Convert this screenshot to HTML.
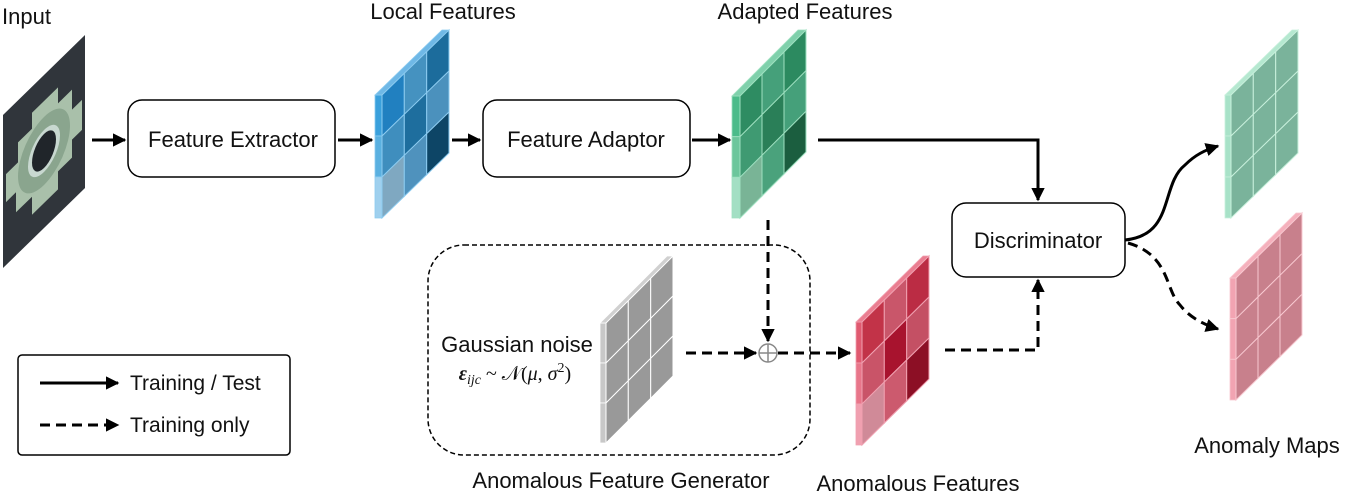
<!DOCTYPE html>
<html><head><meta charset="utf-8"><style>
html,body{margin:0;padding:0;background:#fff;}
svg{display:block;font-family:"Liberation Sans",Arial,sans-serif;}
</style></head><body>
<svg id="s" width="1346" height="493" viewBox="0 0 1346 493" xmlns="http://www.w3.org/2000/svg">
<defs>
<marker id="ah" viewBox="0 0 10 10" refX="9" refY="5" markerWidth="4.5" markerHeight="4.5" orient="auto" markerUnits="strokeWidth"><path d="M0,0 L10,5 L0,10 z" fill="#000"/></marker>
</defs>
<g font-size="22" fill="#111">
<text x="2" y="24">Input</text>
<text x="443" y="19" text-anchor="middle">Local Features</text>
<text x="805" y="19" text-anchor="middle">Adapted Features</text>
<text x="621" y="488" text-anchor="middle">Anomalous Feature Generator</text>
<text x="918" y="491" text-anchor="middle">Anomalous Features</text>
<text x="1267" y="453" text-anchor="middle">Anomaly Maps</text>
</g>
<!-- input image -->
<g transform="matrix(1,-0.976,0,1,3,115)">
<rect x="0" y="0" width="82" height="153" fill="#30353b"/>
<g transform="translate(41,76)">
<path d="M-26,-34 L-12,-34 L-12,-50 L14,-50 L14,-34 L28,-34 L28,-14 L38,-14 L38,16 L28,16 L28,34 L14,34 L14,52 L-12,52 L-12,34 L-28,34 L-28,14 L-38,14 L-38,-14 L-26,-14 Z" fill="#a9c0aa"/>
<ellipse cx="0" cy="0" rx="26" ry="34" fill="#8aa58e"/>
<ellipse cx="0" cy="0" rx="16" ry="21" fill="#c8d8d0"/>
<ellipse cx="0" cy="0" rx="12" ry="17" fill="#20252a"/>
</g>
</g>
<!-- boxes -->
<g fill="#fff" stroke="#000" stroke-width="1.5">
<rect x="128" y="100" width="207" height="77" rx="14"/>
<rect x="483" y="100" width="207" height="77" rx="14"/>
<rect x="952" y="203" width="173" height="74" rx="14"/>
<rect x="428" y="245" width="382" height="210" rx="36" stroke-dasharray="5,3"/>
<rect x="18" y="355" width="272" height="100" rx="4"/>
</g>
<g font-size="22" fill="#111" text-anchor="middle">
<text x="233" y="147">Feature Extractor</text>
<text x="586" y="147">Feature Adaptor</text>
<text x="1038" y="248">Discriminator</text>
<text x="517" y="352">Gaussian noise</text>
</g>
<text x="515" y="380" font-size="20" font-family="'Liberation Serif',serif" text-anchor="middle" fill="#111"><tspan font-weight="bold" font-style="italic">ε</tspan><tspan font-style="italic" font-size="14" dy="4">ijc</tspan><tspan dy="-4"> ~ 𝒩(</tspan><tspan font-style="italic">μ</tspan>, <tspan font-style="italic">σ</tspan><tspan font-size="14" dy="-8">2</tspan><tspan dy="8">)</tspan></text>
<g font-size="21" fill="#111">
<text x="130" y="390">Training / Test</text>
<text x="130" y="432">Training only</text>
</g>
<g id="plates"></g>
<!-- arrows -->
<g stroke="#000" stroke-width="3" fill="none">
<line x1="92" y1="140" x2="125" y2="140" marker-end="url(#ah)"/>
<line x1="338" y1="140" x2="372" y2="140" marker-end="url(#ah)"/>
<line x1="452" y1="140" x2="480" y2="140" marker-end="url(#ah)"/>
<line x1="692" y1="140" x2="730" y2="140" marker-end="url(#ah)"/>
<polyline points="818,140 1038,140 1038,200" marker-end="url(#ah)"/>
<line x1="40" y1="383" x2="118" y2="383" marker-end="url(#ah)"/>
<path d="M1125,240 C1175,235 1160,185 1185,165 C1195,155 1205,150 1218,146" marker-end="url(#ah)"/>
</g>
<g stroke="#000" stroke-width="3" fill="none" stroke-dasharray="10,6">
<line x1="768" y1="220" x2="768" y2="341" marker-end="url(#ah)"/>
<line x1="686" y1="353" x2="756" y2="353" marker-end="url(#ah)"/>
<line x1="778" y1="353" x2="850" y2="353" marker-end="url(#ah)"/>
<polyline points="945,350 1038,350 1038,280" marker-end="url(#ah)"/>
<line x1="40" y1="425" x2="118" y2="425" marker-end="url(#ah)"/>
<path d="M1128,243 C1170,255 1165,290 1180,305 C1190,318 1205,325 1218,329" marker-end="url(#ah)"/>
</g>
<g stroke="#888" stroke-width="1.5" fill="#fff">
<circle cx="768" cy="353" r="9"/>
<line x1="759" y1="353" x2="777" y2="353"/><line x1="768" y1="344" x2="768" y2="362"/>
</g>
</svg>
<script>
(function(){
var NS="http://www.w3.org/2000/svg",g=document.getElementById("plates");
function poly(pts,fill,stroke,sw){var p=document.createElementNS(NS,"polygon");p.setAttribute("points",pts.map(function(a){return a[0].toFixed(1)+","+a[1].toFixed(1)}).join(" "));p.setAttribute("fill",fill);if(stroke){p.setAttribute("stroke",stroke);p.setAttribute("stroke-width",sw||1);}g.appendChild(p);}
function plate(x,y,w,h,r,t,cols,strip,topc,line){
 function P(u,v){return [x+u*w,y-u*r+v*h];}
 for(var j=0;j<3;j++){poly([[x-t,y+j*h/3],[x,y+j*h/3],[x,y+(j+1)*h/3],[x-t,y+(j+1)*h/3]],strip[j],line,0.8);}
 poly([[x-t,y],[x,y],[x+w,y-r],[x+w-t,y-r]],topc,line,0.8);
 for(var j=0;j<3;j++)for(var i=0;i<3;i++){
  poly([P(i/3,j/3),P((i+1)/3,j/3),P((i+1)/3,(j+1)/3),P(i/3,(j+1)/3)],cols[j][i],line,1);
 }
}
plate(382,95,67,123,65,7,[["#2180c0","#4592c0","#1c6c9c"],["#3f8ebe","#1e6e9e","#4b91bd"],["#7fa8c1","#4f92bd","#0d4566"]],["#3aa0dc","#5ab0e0","#9fd0ee"],"#6fb8e6","#8ccbf0");
plate(740,96,66,122,66,8,[["#2e8c62","#45a07a","#2c8a60"],["#3f9a72","#2a7f58","#45a07a"],["#79b496","#4aa27c","#1b5e3f"]],["#4cbb8a","#6cc69c","#a3dfc4"],"#7fd0ab","#9ee0c0");
plate(862,322,67,123,66,6,[["#c23348","#c9566a","#bb2c44"],["#c95468","#a8132e","#c45064"],["#d08a98","#cc5a6e","#8c0f25"]],["#e05a70","#e8768a","#f0a0b0"],"#ea7d90","#f0a0b0");
plate(606,323,67,120,67,6,[["#999","#999","#999"],["#999","#999","#999"],["#999","#999","#999"]],["#c8c8c8","#c8c8c8","#c8c8c8"],"#d0d0d0","#fff");
var gc="#7ab39b",rc="#c8808c";
plate(1231,95,67,123,65,6,[[gc,gc,gc],[gc,gc,gc],[gc,gc,gc]],["#a8e2c8","#a8e2c8","#a8e2c8"],"#b5e8d0","#c8f0dc");
plate(1236,278,66,122,65,6,[[rc,rc,rc],[rc,rc,rc],[rc,rc,rc]],["#f2a4b2","#f2a4b2","#f2a4b2"],"#f5b0bc","#f8c8d0");
})();
</script>
</body></html>
